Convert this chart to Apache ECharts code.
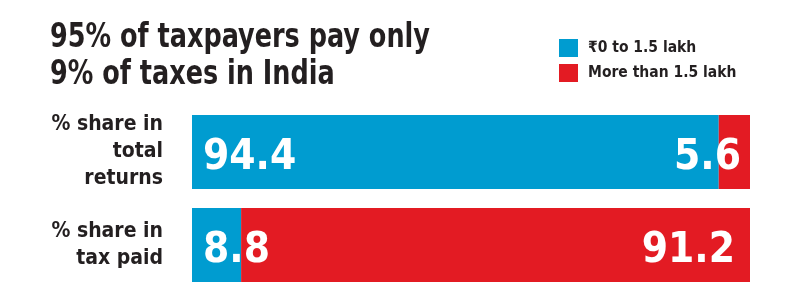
<!DOCTYPE html>
<html>
<head>
<meta charset="utf-8">
<script src="https://cdn.jsdelivr.net/npm/echarts@6/dist/echarts.min.js"></script>
<style>html,body{margin:0;padding:0;background:#fff;}#chart{width:800px;height:308px;}</style>
</head>
<body>
<div id="chart"></div>
<script>
const titleText = "95% of taxpayers pay only\n9% of taxes in India";
const categories = ["% share in\ntotal\nreturns", "% share in\ntax paid"];
const seriesNames = ["₹0 to 1.5 lakh", "More than 1.5 lakh"];
const lowIncome = [94.4, 8.8];
const highIncome = [5.6, 91.2];

const FONT = '"DejaVu Sans Condensed", "DejaVu Sans", sans-serif';
const INK = '#231f20';
const chart = echarts.init(document.getElementById('chart'), null, {renderer: 'canvas'});
chart.setOption({
  backgroundColor: '#ffffff',
  animation: false,
  graphic: [{
    type: 'text', left: 50, top: 20, scaleX: 0.86, originX: 0,
    style: {text: titleText, font: 'bold 33px ' + FONT, lineHeight: 37, fill: INK}
  }],
  legend: {
    orient: 'vertical', left: 554, top: 34,
    itemWidth: 19, itemHeight: 18, itemGap: 7,
    icon: 'rect',
    textStyle: {fontFamily: FONT, fontWeight: 'bold', fontSize: 15.5, color: INK, padding: [0, 0, 0, 5]},
    data: seriesNames
  },
  grid: {left: 192, right: 50, top: 105.5, bottom: 16.5, containLabel: false},
  xAxis: {type: 'value', min: 0, max: 100, show: false},
  yAxis: {
    type: 'category', data: categories, inverse: true,
    axisLine: {show: false}, axisTick: {show: false},
    axisLabel: {
      margin: 29, align: 'right',
      fontFamily: FONT, fontWeight: 'bold', fontSize: 21, lineHeight: 27, color: INK
    }
  },
  series: [
    {
      name: seriesNames[0], type: 'bar', stack: 'total', data: lowIncome, barWidth: 74,
      itemStyle: {color: '#009cd0'},
      label: {show: true, position: 'insideLeft', offset: [6, 6], color: '#fff',
        fontFamily: FONT, fontWeight: 'bold', fontSize: 42}
    },
    {
      name: seriesNames[1], type: 'bar', stack: 'total', barWidth: 74,
      data: highIncome.map((v, i) => ({value: v, label: {offset: [i === 0 ? -4 : -10, 6]}})),
      itemStyle: {color: '#e31b23'},
      label: {show: true, position: 'insideRight', color: '#fff',
        fontFamily: FONT, fontWeight: 'bold', fontSize: 42}
    }
  ]
});
</script>
</body>
</html>
